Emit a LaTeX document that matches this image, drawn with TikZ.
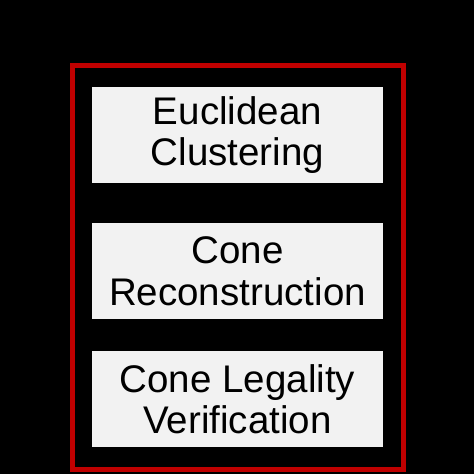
\documentclass[tikz,border=0pt]{standalone}
\usepackage{fontspec}
\setmainfont{Liberation Sans}
\definecolor{framered}{HTML}{C00000}
\definecolor{boxgray}{HTML}{F2F2F2}
\begin{document}
\begin{tikzpicture}[x=1pt,y=1pt,
  stagebox/.style={fill=boxgray, draw=none, minimum width=291pt, minimum height=96pt,
    inner sep=0pt, align=center, font=\fontsize{38.5}{41.5}\selectfont, text=black}]
\fill[black] (0,0) rectangle (474,474);
\useasboundingbox (0,0) rectangle (474,474);
\draw[framered, line width=5pt] (72,408) rectangle (403,4);
\node[stagebox] (euc) at (237.5,339) {Euclidean\\Clustering};
\node[stagebox] (rec) at (237.5,203) {Cone\\Reconstruction};
\node[stagebox] (ver) at (237.5,75) {Cone Legality\\Verification};
\end{tikzpicture}
\end{document}
